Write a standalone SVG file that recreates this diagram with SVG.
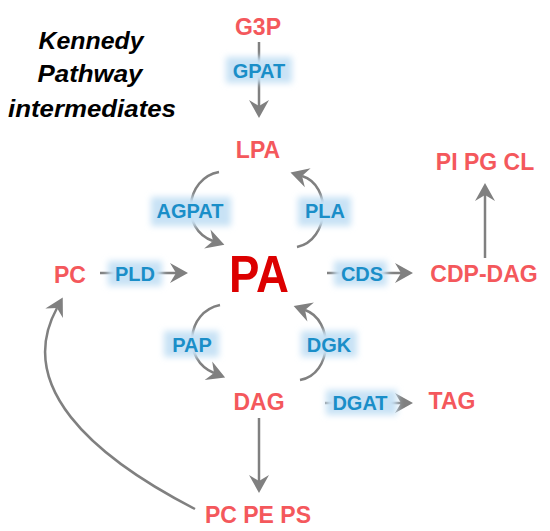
<svg xmlns="http://www.w3.org/2000/svg" width="550" height="531" viewBox="0 0 550 531">
<style>
.met{font-family:"Liberation Sans",Arial,sans-serif;font-weight:bold;font-size:23px;fill:#f4585c;text-anchor:middle}
.enz{font-family:"Liberation Sans",Arial,sans-serif;font-weight:bold;font-size:20px;fill:#1a8ec8;text-anchor:middle}
.title{font-family:"Liberation Sans",Arial,sans-serif;font-weight:bold;font-style:italic;font-size:23px;fill:#000;text-anchor:middle}
.glow{fill:#c8e2f5;filter:url(#blur)}
.arr{fill:none;stroke:#808080;stroke-width:2.5;marker-end:url(#head)}
</style>
<defs>
<filter id="blur" x="-30%" y="-50%" width="160%" height="200%"><feGaussianBlur stdDeviation="3"/></filter>
<marker id="head" markerUnits="userSpaceOnUse" viewBox="-7 -12 20 24" refX="0" refY="0" markerWidth="20" markerHeight="24" orient="auto">
<path d="M-6,-10 L12,0 L-6,10 L0,0 Z" fill="#808080"/>
</marker>
</defs>
<g id="title">
<text class="title" x="91" y="49" textLength="105" lengthAdjust="spacingAndGlyphs">Kennedy</text>
<text class="title" x="90" y="82" textLength="105" lengthAdjust="spacingAndGlyphs">Pathway</text>
<text class="title" x="92" y="117" textLength="168" lengthAdjust="spacingAndGlyphs">intermediates</text>
</g>
<g id="connectors">
<path class="arr" d="M259,42 L259,106"/>
<path class="arr" d="M219,172 C185,178 180,230 213,241"/>
<path class="arr" d="M297,247 C330,240 332,185 302,176"/>
<path class="arr" d="M220,305 C186,312 182,360 214,373"/>
<path class="arr" d="M300,380 C333,374 334,320 305,310"/>
<path class="arr" d="M100,273 L176,273"/>
<path class="arr" d="M327,273 L401,273"/>
<path class="arr" d="M485,258 L485,195"/>
<path class="arr" d="M325,403 L401,403"/>
<path class="arr" d="M259,418 L259,481"/>
<path class="arr" d="M195,509 C90,455 15,385 57,308"/>
</g>
<g id="GPAT"><rect class="glow" x="226" y="57" width="66" height="26"/><text class="enz" x="259" y="78">GPAT</text></g>
<g id="AGPAT"><rect class="glow" x="151" y="197" width="80" height="29"/><text class="enz" x="190" y="218">AGPAT</text></g>
<g id="PLA"><rect class="glow" x="298" y="197" width="53" height="29"/><text class="enz" x="325" y="218">PLA</text></g>
<g id="PLD"><rect class="glow" x="108" y="261" width="54" height="25"/><text class="enz" x="135" y="281">PLD</text></g>
<g id="CDS"><rect class="glow" x="334" y="261" width="53" height="25"/><text class="enz" x="362" y="281">CDS</text></g>
<g id="PAP"><rect class="glow" x="164" y="331" width="55" height="26"/><text class="enz" x="192" y="352">PAP</text></g>
<g id="DGK"><rect class="glow" x="301" y="331" width="56" height="26"/><text class="enz" x="329" y="352">DGK</text></g>
<g id="DGAT"><rect class="glow" x="326" y="390" width="71" height="25"/><text class="enz" x="360" y="410">DGAT</text></g>
<g id="G3P"><text class="met" x="258" y="35">G3P</text></g>
<g id="LPA"><text class="met" x="258" y="158">LPA</text></g>
<g id="PA"><text class="met" x="259" y="292" style="font-size:52px;fill:#dc0000" textLength="60" lengthAdjust="spacingAndGlyphs">PA</text></g>
<g id="PC"><text class="met" x="70" y="283">PC</text></g>
<g id="CDP-DAG"><text class="met" x="484" y="282">CDP-DAG</text></g>
<g id="PIPGCL"><text class="met" x="485" y="170">PI PG CL</text></g>
<g id="DAG"><text class="met" x="259" y="410">DAG</text></g>
<g id="TAG"><text class="met" x="452" y="409">TAG</text></g>
<g id="PCPEPS"><text class="met" x="258" y="523">PC PE PS</text></g>
</svg>
